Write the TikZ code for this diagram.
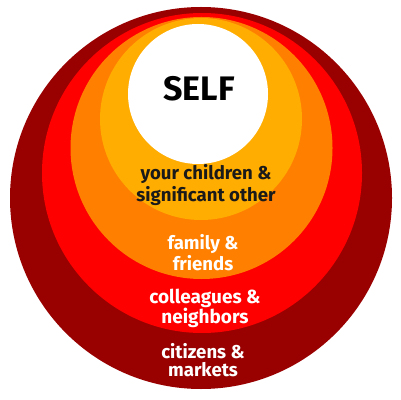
\documentclass[tikz,border=0pt]{standalone}
\usepackage{fontspec}
\setmainfont{Fira Sans}
\usepackage{tikz}
\definecolor{darkred}{HTML}{990000}
\definecolor{brightred}{HTML}{FF0000}
\definecolor{orangered}{HTML}{FF7F00}
\definecolor{amber}{HTML}{FFAD00}
\definecolor{inktext}{HTML}{1A1A1A}
\begin{document}
\begin{tikzpicture}[x=0.5pt,y=-0.5pt,
  label/.style={font=\fontsize{9.3}{9.2}\selectfont\bfseries,align=center,text=white,inner sep=0pt}]
\useasboundingbox (0,0) rectangle (400,400);
%rings
\fill[darkred](201,198) circle (191);
\fill[brightred](202,173) circle (160);
\fill[orangered](201.5,148) circle (131);
\fill[amber](201,119) circle (101);
\fill[white](198,94) circle (70);
%labels
\node[font=\fontsize{17}{17}\selectfont\bfseries,text=black] (self) at(199,89){SELF};
\node[label,text=inktext] (children) at(206,185){your children \&\\significant other};
\node[label] (family) at(203,253){family \&\\friends};
\node[label,font=\fontsize{9.5}{10}\selectfont\bfseries] (colleagues) at(205,308){colleagues \&\\neighbors};
\node[label] (citizens) at(203,360){citizens \&\\markets};
\end{tikzpicture}
\end{document}
